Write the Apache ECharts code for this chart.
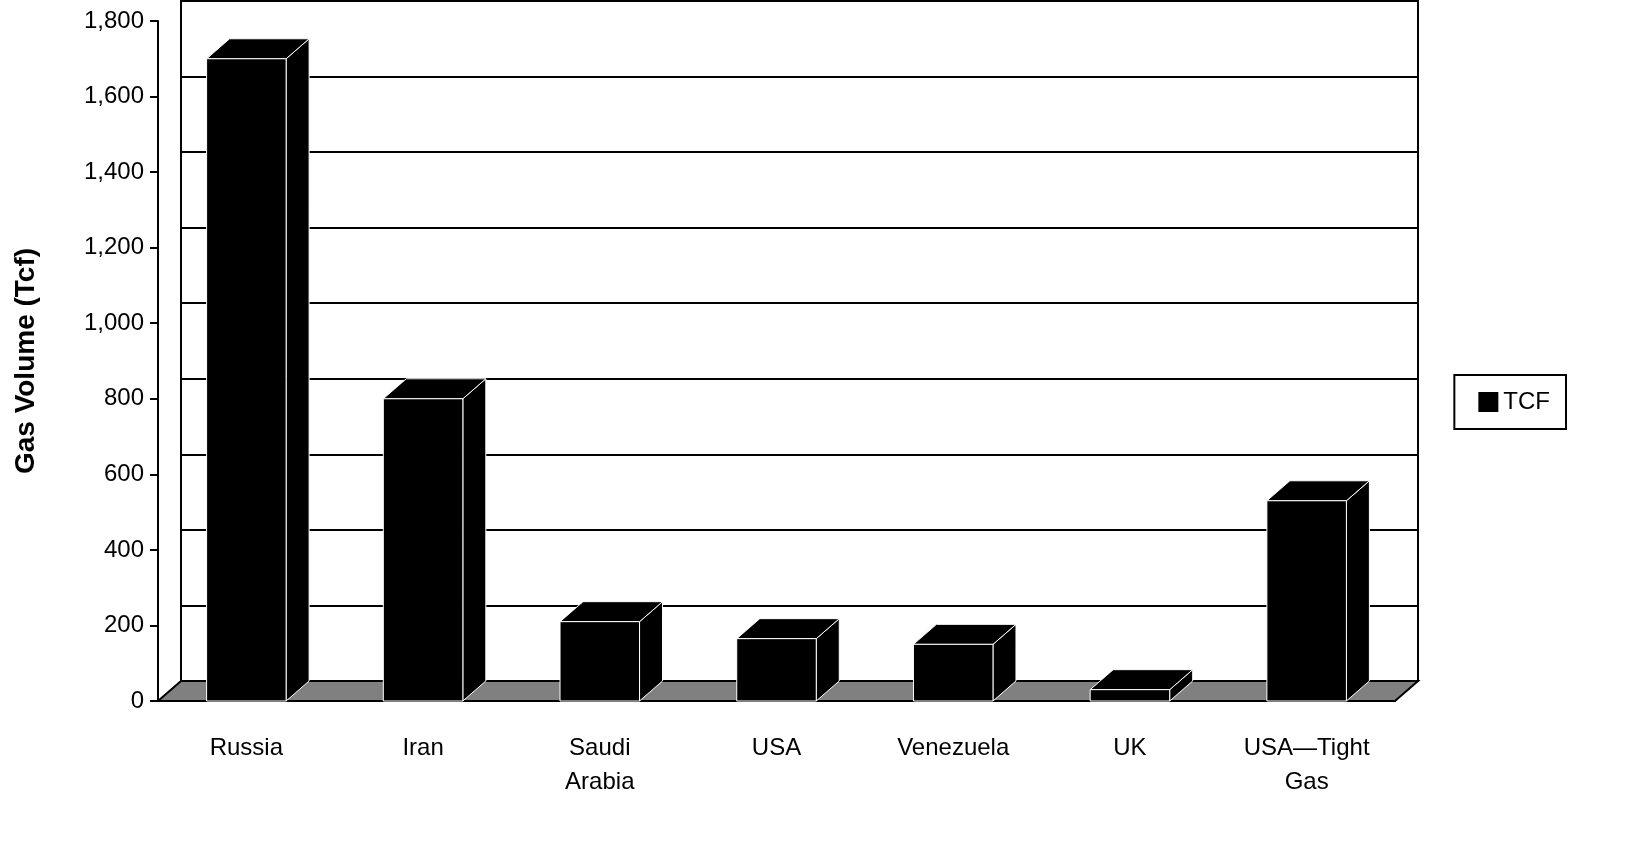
<!DOCTYPE html>
<html><head><meta charset="utf-8">
<script src="https://cdn.jsdelivr.net/npm/echarts@6/dist/echarts.min.js"></script>
<style>html,body{margin:0;background:#fff}#c{width:1644px;height:844px}</style>
</head><body><div id="c"></div>
<script>
var categories = ['Russia', 'Iran', 'Saudi\nArabia', 'USA', 'Venezuela', 'UK', 'USA\u2014Tight\nGas'];
var tcf = [1700, 800, 210, 165, 150, 30, 530];
var DX = 23, DY = -20;
var chart = echarts.init(document.getElementById('c'));
var font = 'Arial, "Liberation Sans", sans-serif';

function renderBar(params, api) {
  var i = api.value(0), v = api.value(1);
  var size = api.size([1, 0])[0];
  var c = api.coord([i, 0]);
  var top = api.coord([i, v])[1];
  var w = size * 0.45;
  var x0 = c[0] - w / 2, x1 = x0 + w, y0 = c[1];
  var st = { fill: '#000', stroke: '#fff', lineWidth: 1 };
  var children = [];
  if (params.dataIndex === 0) {
    var a = api.coord([0, 0]), b = api.coord([categories.length - 1, 0]);
    var ax = a[0] - size / 2, bx = b[0] + size / 2;
    children.push({ type: 'polygon', shape: { points: [[ax, a[1]], [bx, b[1]], [bx + DX, b[1] + DY], [ax + DX, a[1] + DY]] },
      style: { fill: '#808080', stroke: '#000', lineWidth: 2 }, z2: -10 });
  }
  children.push({ type: 'polygon', shape: { points: [[x1, y0], [x1 + DX, y0 + DY], [x1 + DX, top + DY], [x1, top]] }, style: st });
  children.push({ type: 'polygon', shape: { points: [[x0, top], [x1, top], [x1 + DX, top + DY], [x0 + DX, top + DY]] }, style: st });
  children.push({ type: 'rect', shape: { x: x0, y: top, width: w, height: y0 - top }, style: st });
  return { type: 'group', children: children };
}

chart.setOption({
  animation: false,
  grid: [
    { left: 158, right: 249, top: 21, bottom: 143 },
    { left: 158 + DX, right: 249 - DX, top: 21 + DY, bottom: 143 - DY, show: true, borderColor: '#000', borderWidth: 2 }
  ],
  legend: {
    right: 78, top: 375, orient: 'vertical', itemWidth: 20, itemHeight: 20,
    borderColor: '#000', borderWidth: 2, padding: [15, 16, 15, 24],
    textStyle: { fontFamily: font, fontSize: 24, color: '#000' },
    data: [{ name: 'TCF', icon: 'rect', itemStyle: { color: '#000' } }]
  },
  xAxis: [
    { type: 'category', gridIndex: 0, data: categories,
      axisLine: { lineStyle: { color: '#000', width: 2 } },
      axisTick: { length: 14, lineStyle: { color: '#000', width: 2 } },
      axisLabel: { fontFamily: font, fontSize: 24, color: '#000', margin: 30, lineHeight: 34 } },
    { type: 'category', gridIndex: 1, data: categories, show: false }
  ],
  yAxis: [
    { type: 'value', gridIndex: 0, min: 0, max: 1800, interval: 200,
      name: 'Gas Volume (Tcf)', nameLocation: 'middle', nameGap: 118,
      nameTextStyle: { fontFamily: font, fontSize: 28, fontWeight: 'bold', color: '#000' },
      axisLine: { show: true, lineStyle: { color: '#000', width: 2 } },
      axisTick: { show: true, length: 8, lineStyle: { color: '#000', width: 2 } },
      axisLabel: { fontFamily: font, fontSize: 24, color: '#000', margin: 14 },
      splitLine: { show: false } },
    { type: 'value', gridIndex: 1, min: 0, max: 1800, interval: 200,
      axisLine: { show: false }, axisTick: { show: false }, axisLabel: { show: false },
      splitLine: { lineStyle: { color: '#000', width: 2 } } }
  ],
  series: [{
    name: 'TCF', type: 'custom', xAxisIndex: 0, yAxisIndex: 0,
    itemStyle: { color: '#000' },
    renderItem: renderBar,
    encode: { x: 0, y: 1 },
    data: tcf.map(function (v, i) { return [i, v]; })
  }]
});
</script></body></html>
